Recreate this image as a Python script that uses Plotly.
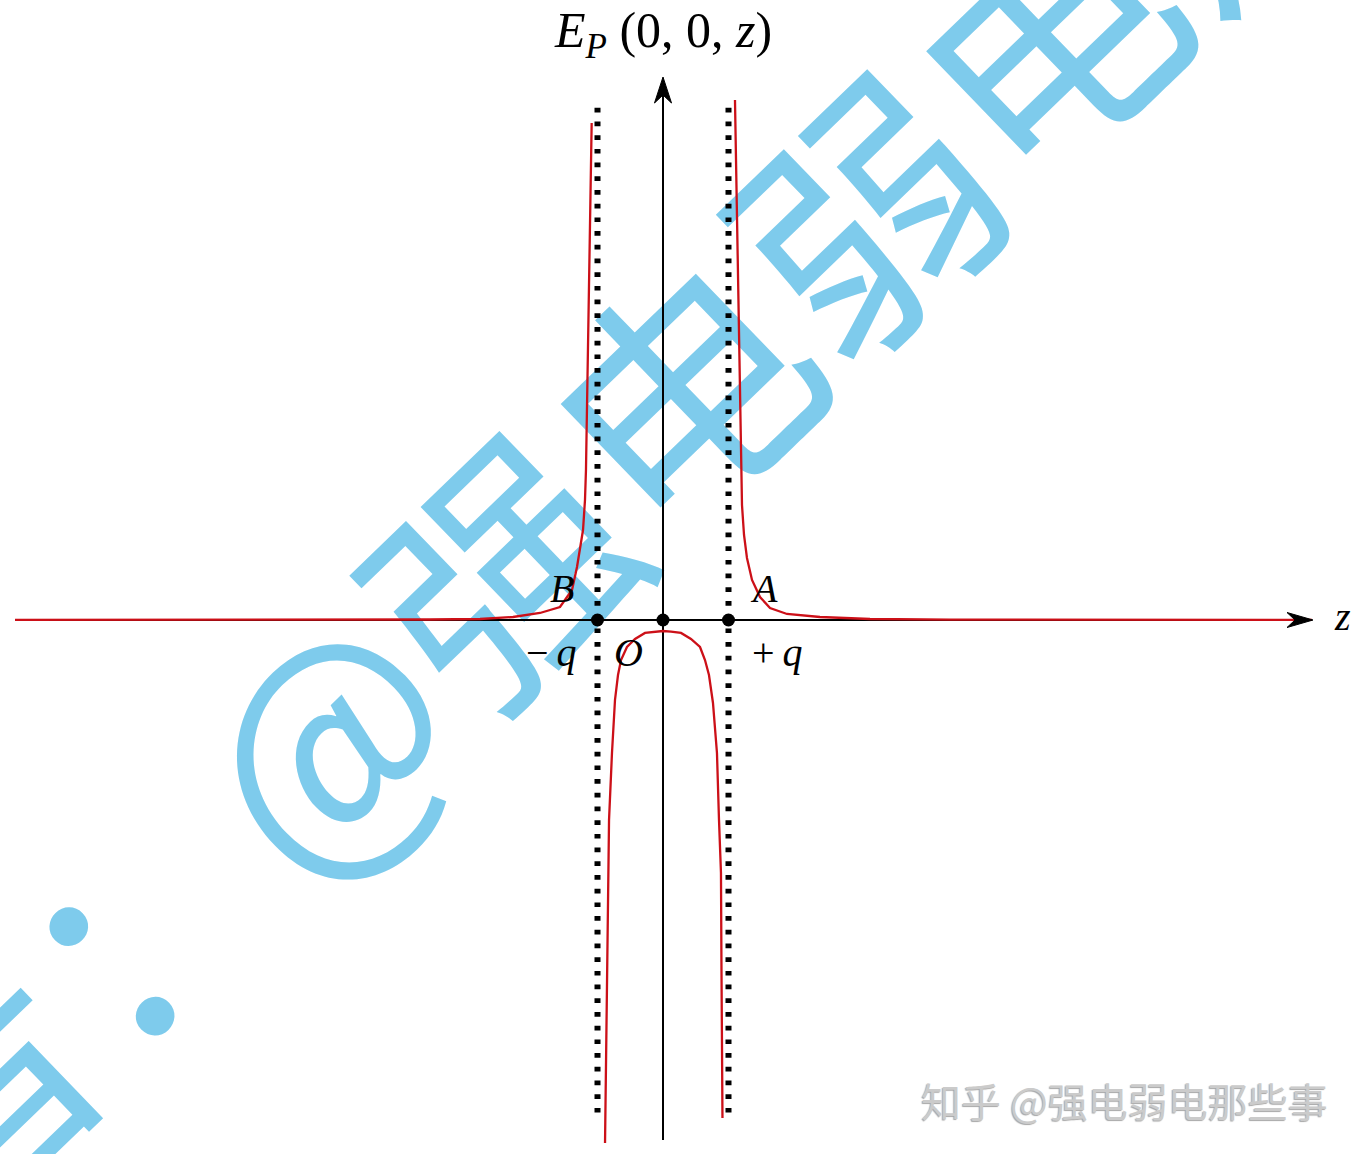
import plotly.graph_objects as go

# ---------------- data (z in units of the half-separation a, E in arbitrary units) -------------
# branch z < -a  (field positive, diverges at -q)
left_z = [-9.893, -5.542, -3.557, -2.794, -2.290, -1.878, -1.573, -1.389, -1.313,
          -1.221, -1.191, -1.176, -1.160, -1.145, -1.130, -1.115, -1.089]
left_E = [0.001, 0.002, 0.008, 0.015, 0.046, 0.107, 0.198, 0.458, 0.809,
          1.374, 1.832, 2.290, 3.359, 4.427, 5.496, 6.565, 7.588]

# branch -a < z < a  (field negative)
mid_z = [-0.885, -0.870, -0.855, -0.840, -0.824, -0.779, -0.733, -0.687, -0.641, -0.550,
         -0.427, -0.275, -0.122, 0.0, 0.122, 0.275, 0.427, 0.565, 0.641, 0.702,
         0.763, 0.824, 0.855, 0.885, 0.893, 0.901, 0.908]
mid_E = [-7.985, -6.870, -5.344, -3.863, -3.053, -2.031, -1.221, -0.840, -0.611, -0.412,
         -0.290, -0.198, -0.176, -0.168, -0.176, -0.198, -0.290, -0.412, -0.611, -0.840,
         -1.267, -2.031, -3.053, -3.863, -5.344, -6.870, -7.603]

# branch z > a  (field positive, diverges at +q)
right_z = [1.099, 1.115, 1.130, 1.145, 1.160, 1.176, 1.191, 1.206, 1.237, 1.282,
           1.359, 1.481, 1.634, 1.893, 2.397, 3.160, 4.382, 9.908]
right_E = [7.939, 7.023, 5.954, 4.885, 3.969, 3.053, 2.290, 1.756, 1.298, 0.947,
           0.611, 0.351, 0.183, 0.092, 0.046, 0.015, 0.005, 0.001]

charge_z = [-1.0, 1.0]            # positions of -q (B) and +q (A)
asym_E = [7.82, -7.55]            # extent of the dotted asymptotes
point_z = [-1.0, 0.0, 1.0]        # B, O, A
point_E = [0.0, 0.0, 0.0]

# ---------------- geometry helpers (pixel <-> data) ----------------
W, H = 1362, 1154
OX, OY, S = 663.0, 620.0, 65.5


def px2x(px):
    return (px - OX) / S


def py2y(py):
    return (OY - py) / S


def pfx(px):
    return px / W


def pfy(py):
    return 1 - py / H


x_range = [px2x(0), px2x(W)]
y_range = [py2y(H), py2y(0)]

RED = "#cc1018"
BLUE = "#7ecbec"
SERIF = "Liberation Serif"

fig = go.Figure()

# axes lines
x_axis_z = [px2x(15), px2x(1300)]
y_axis_E = [py2y(1140), py2y(90)]
fig.add_trace(go.Scatter(x=x_axis_z, y=[0, 0], mode="lines",
                         line=dict(color="black", width=2), hoverinfo="skip"))
fig.add_trace(go.Scatter(x=[0, 0], y=y_axis_E, mode="lines",
                         line=dict(color="black", width=2), hoverinfo="skip"))

# dotted asymptotes at the charges
for cz in charge_z:
    fig.add_trace(go.Scatter(x=[cz, cz], y=asym_E, mode="lines",
                             line=dict(color="black", width=6, dash="4.7px,9px"),
                             hoverinfo="skip"))

# field curve
for zz, ee in [(left_z, left_E), (mid_z, mid_E), (right_z, right_E)]:
    fig.add_trace(go.Scatter(x=zz, y=ee, mode="lines",
                             line=dict(color=RED, width=2.3), hoverinfo="skip"))

# points B, O, A
fig.add_trace(go.Scatter(x=point_z, y=point_E, mode="markers",
                         marker=dict(color="black", size=13), hoverinfo="skip"))


# arrowheads (stealth style)
def arrow_path(tip, d, L=26.0, hw=7.5, notch=18.0):
    tx, ty = tip
    dx, dy = d
    nx, ny = -dy, dx
    bx, by = tx - dx * L, ty - dy * L
    mx, my = tx - dx * notch, ty - dy * notch
    pts = [(tx, ty), (bx + nx * hw, by + ny * hw), (mx, my), (bx - nx * hw, by - ny * hw)]
    return "M " + " L ".join(f"{px2x(p[0]):.4f},{py2y(p[1]):.4f}" for p in pts) + " Z"


shapes = [
    dict(type="path", xref="x", yref="y", path=arrow_path((1313, 620), (1, 0)),
         fillcolor="black", line=dict(color="black", width=1), layer="above"),
    dict(type="path", xref="x", yref="y", path=arrow_path((663, 77), (0, -1), hw=8.5),
         fillcolor="black", line=dict(color="black", width=1), layer="above"),
]

# big rotated watermark (below the data)
wx, wy = 708, 410
shapes.append(dict(type="rect", xref="paper", yref="paper",
                   x0=pfx(wx - 1), x1=pfx(wx + 1), y0=pfy(wy + 1), y1=pfy(wy - 1),
                   line=dict(width=0), fillcolor="rgba(0,0,0,0)", layer="below",
                   label=dict(text="作者：@强电弱电那些事", textangle=-44,
                              textposition="middle center",
                              font=dict(family="Noto Sans CJK SC", size=254, color=BLUE))))

annotations = []


def label(text, px, py, size=40):
    annotations.append(dict(text=text, xref="paper", yref="paper", x=pfx(px), y=pfy(py),
                            xanchor="center", yanchor="middle", showarrow=False,
                            font=dict(family=SERIF, size=size, color="black")))


label("<i>E</i><sub><i>P</i></sub> (0, 0, <i>z</i>)", 663, 34, size=50)
label("<i>B</i>", 562, 588)
label("<i>A</i>", 764, 588)
label("\u2212\u2009<i>q</i>", 551, 652)
label("<i>O</i>", 628, 652)
label("+\u2009<i>q</i>", 777, 652)
label("<i>z</i>", 1342, 616, size=40)

annotations.append(dict(text="知乎 @强电弱电那些事", xref="paper", yref="paper",
                        x=pfx(1124), y=pfy(1100), xanchor="center", yanchor="middle",
                        showarrow=False,
                        font=dict(family="Noto Sans CJK SC", size=40, color="#cbcbcb",
                                  shadow="-1px 1px 1px rgba(0,0,0,0.35)")))

fig.update_layout(
    width=W, height=H, autosize=False,
    margin=dict(l=0, r=0, t=0, b=0, pad=0),
    paper_bgcolor="white", plot_bgcolor="white",
    showlegend=False,
    xaxis=dict(range=x_range, visible=False, fixedrange=True),
    yaxis=dict(range=y_range, visible=False, fixedrange=True),
    shapes=shapes, annotations=annotations,
)

fig.write_html("out.html",
               config={"displayModeBar": False},
               post_script="document.body.style.margin='0px';"
                           "document.body.style.overflow='hidden';")
